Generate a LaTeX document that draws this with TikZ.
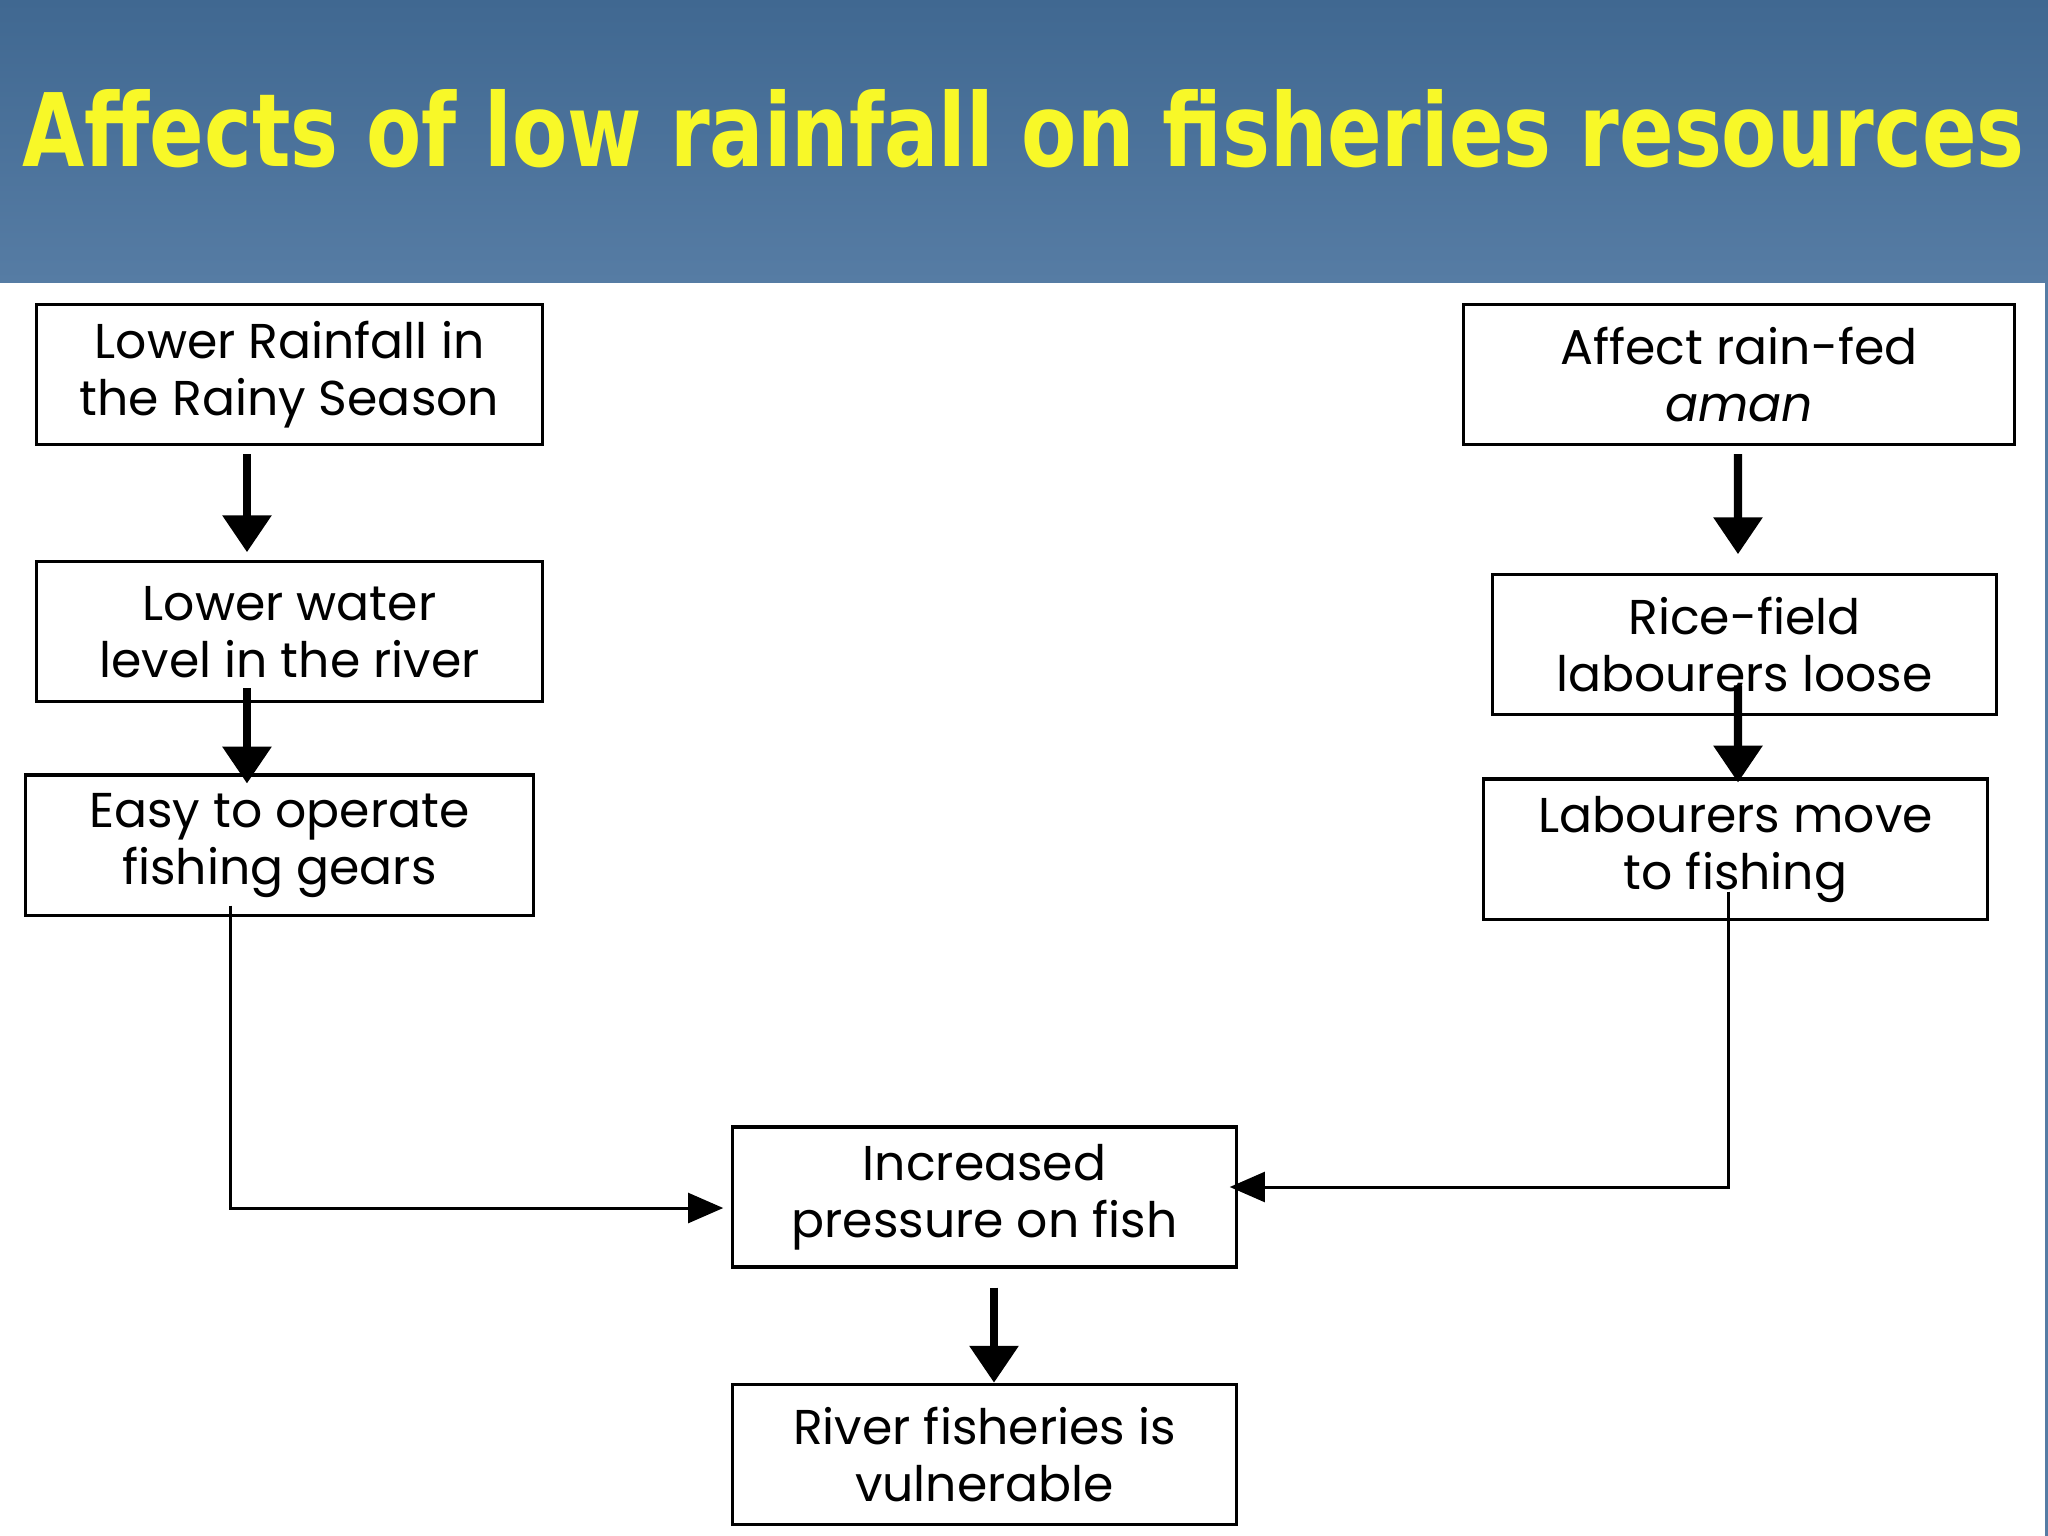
\documentclass[tikz,border=0pt]{standalone}
\usepackage{fontspec}
\usepackage{graphicx}
\usepackage{tikz}
\usetikzlibrary{arrows.meta, positioning}
\newfontfamily\bodyfont{Poppins}
\newfontfamily\titlefont{DejaVu Sans Bold}
\definecolor{bannertop}{RGB}{64,104,145}
\definecolor{bannerbottom}{RGB}{86,124,164}
\definecolor{titleyellow}{RGB}{248,248,40}

\begin{document}
\begin{tikzpicture}[
x=0.01cm, y=-0.01cm,
box/.style={draw, line width=0.9pt, inner sep=0pt, align=center, minimum width=5.03cm, minimum height=1.40cm,
  font=\bodyfont\fontsize{13.9}{16.2}\selectfont},
bigarrow/.style={-{Triangle[length=10.5pt, width=13.5pt]}, line width=2.3pt},
thinarrow/.style={-{Triangle[length=10pt, width=8.5pt]}, line width=0.85pt}
]

% page and banner
\fill[white] (0,0) rectangle (2048,1536);
\shade[top color=bannertop, bottom color=bannerbottom] (0,0) rectangle (2048,282);
\fill[bannerbottom] (2045,282) rectangle (2048,1536);
\node[anchor=base, inner sep=0pt, text=titleyellow] (title) at (1023.5,166)
  {\resizebox{20.01cm}{0.77cm}{\titlefont Affects of low rainfall on fisheries resources}};

% left column
\node[box, minimum width=5.05cm] (B1) at (289.5,374.5) {Lower Rainfall in\\the Rainy Season};
\node[box, minimum width=5.05cm, below=1.14cm of B1] (B2) {Lower water\\level in the river};
\node[box, minimum width=5.07cm, below=0.70cm of B2, xshift=-0.1cm] (B3) {Easy to operate\\fishing gears};

% right column
\node[box, minimum width=5.5cm] (R1) at (1739,374.5) {Affect rain-fed\\\textit{aman}};
\node[box, below=1.27cm of R1, xshift=0.055cm] (R2) {Rice-field\\labourers loose};
\node[box, below=0.61cm of R2, xshift=-0.09cm] (R3) {Labourers move\\to fishing};

% centre
\node[box] (C1) at (984.5,1197) {Increased\\pressure on fish};
\node[box, below=1.14cm of C1] (C2) {River fisheries is\\vulnerable};

\draw[bigarrow] ([xshift=-0.425cm, yshift=-0.08cm]B1.south) -- ([xshift=-0.425cm, yshift=0.08cm]B2.north);
\draw[bigarrow] ([xshift=-0.425cm, yshift=0.15cm]B2.south) -- ([xshift=-0.325cm, yshift=-0.10cm]B3.north);
\draw[bigarrow] ([xshift=-0.01cm, yshift=-0.08cm]R1.south) -- ([xshift=-0.065cm, yshift=0.19cm]R2.north);
\draw[bigarrow] ([xshift=-0.065cm, yshift=0.31cm]R2.south) -- ([xshift=0.025cm, yshift=-0.05cm]R3.north);
\draw[bigarrow] ([xshift=0.095cm, yshift=-0.19cm]C1.south) -- ([xshift=0.095cm]C2.north);

\draw[thinarrow] ([xshift=-0.485cm, yshift=0.11cm]B3.south) |- ([xshift=-0.08cm, yshift=-0.11cm]C1.west);
\draw[thinarrow] ([xshift=-0.075cm, yshift=0.29cm]R3.south) |- ([xshift=-0.08cm, yshift=0.10cm]C1.east);

\end{tikzpicture}
\end{document}
